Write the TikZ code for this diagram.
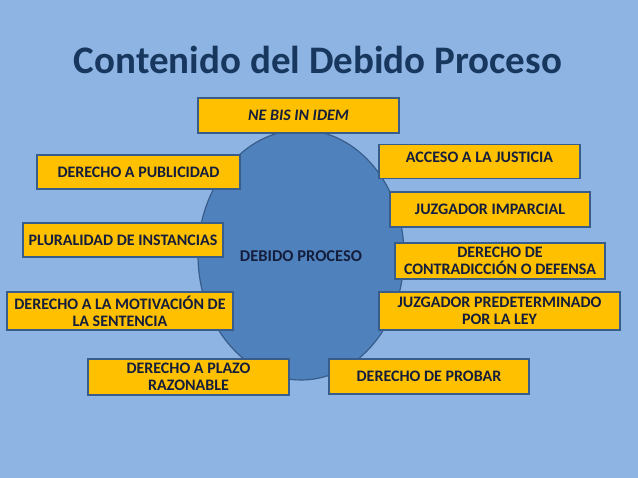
\documentclass[tikz,border=0pt]{standalone}
\usepackage{fontspec}
\setmainfont{Carlito}
\usetikzlibrary{shapes.geometric}
\definecolor{bgblue}{RGB}{142,180,227}
\definecolor{ovalblue}{RGB}{79,129,189}
\definecolor{edgeblue}{RGB}{56,93,138}
\definecolor{boxyellow}{RGB}{255,192,0}
\definecolor{titleblue}{RGB}{23,55,94}
\definecolor{txt}{RGB}{20,30,60}
\begin{document}
\begin{tikzpicture}[x=1pt,y=-1pt]
       \tikzstyle{item} = [rectangle, draw=edgeblue, line width=1.2pt, fill=boxyellow,
         text=txt, font=\fontsize{16}{17}\selectfont\bfseries, align=center, inner sep=0pt];
       \fill[bgblue] (0,0) rectangle (638,478);
       \useasboundingbox (0,0) rectangle (638,478);
       \node[text=titleblue, font=\fontsize{39}{42}\selectfont\bfseries] (title) at (318,60) {Contenido del Debido Proceso};
       \node[ellipse, draw=edgeblue, line width=1.2pt, fill=ovalblue, minimum width=206pt, minimum height=250pt] (core) at (301,255) {};
       \node[text=txt, font=\fontsize{16.5}{18}\selectfont\bfseries] (debido) at (301,256) {DEBIDO PROCESO};
       % cajas
       \node[item, minimum width=201pt, minimum height=35pt, font=\fontsize{16}{17}\selectfont\bfseries\itshape] (nebis) at (298.5,115.5) {NE BIS IN IDEM};
       \node[item, minimum width=201pt, minimum height=34pt, anchor=north] (acceso) at (479.5,144) {\raisebox{8pt}{ACCESO A LA JUSTICIA}};
       \node[item, minimum width=203pt, minimum height=34pt] (publicidad) at (138.5,172) {DERECHO A PUBLICIDAD};
       \node[item, minimum width=200pt, minimum height=35pt] (imparcial) at (490,209.5) {JUZGADOR IMPARCIAL};
       \node[item, minimum width=200pt, minimum height=34pt] (pluralidad) at (123,240) {PLURALIDAD DE INSTANCIAS};
       \node[item, minimum width=210pt, minimum height=36pt] (contradiccion) at (500,261) {DERECHO DE\\CONTRADICCIÓN O DEFENSA};
       \node[item, minimum width=226pt, minimum height=38pt] (motivacion) at (120,311) {DERECHO A LA MOTIVACIÓN DE\\LA SENTENCIA};
       \node[item, minimum width=241pt, minimum height=38pt] (predeterminado) at (499.5,311) {JUZGADOR PREDETERMINADO\\POR LA LEY};
       \node[item, minimum width=201pt, minimum height=36pt] (plazo) at (188.5,377) {DERECHO A PLAZO\\RAZONABLE};
       \node[item, minimum width=200pt, minimum height=35pt] (probar) at (429,376.5) {DERECHO DE PROBAR};
\end{tikzpicture}
\end{document}
